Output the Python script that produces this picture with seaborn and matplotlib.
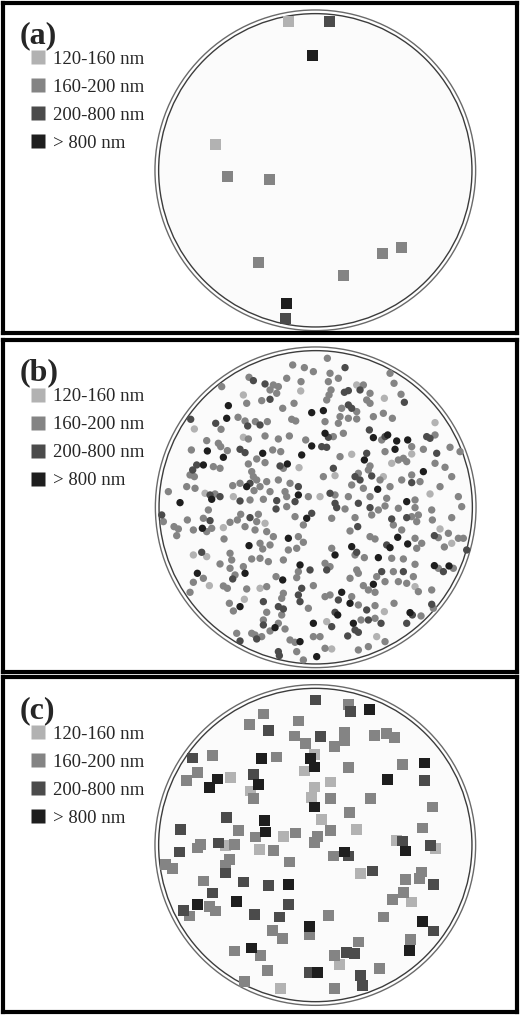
import pandas as pd
import matplotlib
matplotlib.use('Agg')
import matplotlib.pyplot as plt
from matplotlib.lines import Line2D
from matplotlib.patches import Circle
import seaborn as sns

# ------------------------------------------------------------
# size classes + grey levels of the defect map
# ------------------------------------------------------------
SIZE_CLASSES = ['120-160 nm', '160-200 nm', '200-800 nm', '> 800 nm']
GREYS = ['#b2b2b2', '#848484', '#4b4b4b', '#1e1e1e']

# digitised particle positions, map units (3 units = 1 px of the scan)
# --- (a) ---
A_LIGHT = [(866, 66), (647, 433)]
A_MID = [(684, 531), (809, 539), (1206, 742), (1149, 760), (775, 787), (1031, 828)]
A_DARK = [(990, 64), (857, 957)]
A_BLACK = [(937, 167), (861, 911)]

# --- (b) ---
B_LIGHT = [(902, 168), (730, 180), (583, 282), (730, 307), (897, 398), (615, 475), (700, 485),
           (1070, 150), (1153, 190), (1305, 263), (1235, 357), (1055, 358), (1175, 385),
           (1005, 422), (1150, 425), (1290, 477), (960, 485), (670, 578), (795, 565),
           (580, 660), (620, 665), (628, 752), (780, 760), (733, 793), (1320, 582),
           (1355, 625), (1245, 755), (1153, 830), (980, 860), (1130, 905), (995, 942)]
B_MID = [(878, 90), (913, 98), (940, 110), (860, 130), (903, 140), (747, 127), (820, 150),
         (835, 155), (810, 165), (830, 175), (665, 155), (740, 205), (785, 197), (882, 205),
         (848, 220), (714, 247), (735, 258), (766, 260), (802, 260), (663, 283), (875, 253),
         (887, 258), (745, 312), (795, 303), (835, 312), (868, 303), (917, 315), (620, 317),
         (655, 325), (662, 335), (682, 347), (818, 345), (842, 350), (574, 345), (770, 372),
         (795, 383), (745, 387), (570, 420), (583, 425), (640, 395), (660, 400), (850, 400),
         (755, 410), (760, 425), (770, 435), (780, 455), (800, 440), (810, 470), (762, 467),
         (698, 452), (720, 445), (835, 435), (855, 470), (870, 445), (560, 455), (585, 460),
         (645, 477), (505, 470), (750, 495), (790, 493), (860, 485), (925, 485),
         (982, 70), (990, 115), (1015, 130), (985, 140), (1090, 150), (993, 165), (987, 180),
         (980, 195), (1110, 175), (1100, 195), (1110, 205), (1203, 178), (1182, 145),
         (1170, 115), (1070, 230), (1025, 220), (975, 260), (1020, 245), (1045, 250),
         (1070, 252), (1015, 265), (1120, 245), (1150, 235), (1177, 250), (1000, 305),
         (1030, 295), (1145, 315), (1235, 335), (1305, 300), (1155, 350), (1210, 370),
         (1195, 375), (1220, 380), (1270, 343), (1350, 337), (1380, 350), (1020, 365),
         (1110, 393), (1105, 405), (1305, 385), (1335, 397), (970, 425), (1075, 415),
         (1140, 435), (1055, 450), (1090, 460), (1170, 455), (1205, 435), (1235, 420),
         (1260, 440), (1320, 455), (1355, 425), (1005, 480), (1045, 485), (1110, 485),
         (1160, 490), (1245, 495), (1375, 485),
         (625, 525), (610, 550), (490, 560), (522, 575), (535, 582), (562, 555), (580, 585),
         (620, 590), (635, 580), (690, 562), (712, 555), (722, 538), (775, 538), (770, 560),
         (735, 575), (765, 585), (800, 590), (820, 605), (860, 515), (885, 545), (910, 570),
         (530, 602), (672, 612), (780, 625), (788, 642), (810, 630), (895, 605), (890, 640),
         (910, 622), (865, 645), (690, 655), (695, 675), (660, 687), (755, 672), (780, 670),
         (805, 680), (850, 675), (895, 710), (690, 700), (730, 695), (705, 720), (610, 730),
         (580, 742), (670, 753), (682, 760), (740, 762), (800, 755), (828, 725), (890, 728),
         (940, 752), (570, 772), (688, 805), (700, 828), (850, 775), (845, 790), (845, 840),
         (800, 832), (925, 820), (790, 855), (835, 865), (855, 882), (940, 905), (710, 895),
         (755, 895), (765, 900), (785, 905), (810, 888), (870, 915), (885, 922), (890, 950),
         (910, 975),
         (1035, 522), (995, 550), (1135, 525), (1155, 513), (1195, 520), (1245, 518),
         (1295, 525), (1385, 515), (1065, 548), (1115, 540), (1180, 570), (1235, 545),
         (1255, 540), (1250, 560), (1297, 555), (1355, 548), (1050, 588), (1110, 605),
         (1125, 612), (1205, 585), (1245, 610), (1250, 640), (1265, 625), (1315, 608),
         (1345, 595), (1375, 610), (1390, 610), (1333, 636), (1065, 660), (995, 640),
         (1093, 668), (1175, 670), (1210, 672), (975, 685), (990, 695), (1315, 700),
         (1360, 700), (1245, 688), (1070, 705), (1155, 740), (1130, 725), (1050, 730),
         (1075, 715), (1180, 710), (1195, 740), (1220, 745), (1240, 725), (1255, 770),
         (1295, 765), (1090, 752), (1105, 765), (1125, 772), (990, 780), (975, 785),
         (1055, 785), (1075, 810), (1125, 812), (1182, 805), (1263, 843), (1300, 820),
         (1083, 855), (1125, 850), (960, 905), (1155, 920), (975, 940), (1075, 945), (1105, 935)]
B_DARK = [(760, 137), (795, 147), (810, 193), (743, 273), (780, 270), (647, 265), (572, 253),
          (720, 343), (735, 353), (590, 390), (578, 405), (840, 393), (750, 445), (895, 455),
          (630, 480), (660, 485), (720, 498), (830, 497), (885, 500),
          (1035, 98), (1080, 165), (1033, 172), (1045, 167), (1213, 202), (1045, 210),
          (1055, 220), (1108, 285), (985, 307), (1155, 305), (1280, 305), (1290, 310),
          (965, 335), (980, 337), (1310, 355), (1100, 355), (1000, 400), (1065, 425),
          (1080, 435), (1115, 423), (1235, 443), (990, 475), (1005, 505), (1075, 505),
          (630, 557), (485, 540), (750, 548), (828, 522), (935, 535), (605, 652), (930, 705),
          (698, 732), (790, 800), (895, 780), (905, 760), (900, 800), (835, 815), (850, 822),
          (790, 870), (770, 912), (720, 918), (835, 950), (838, 962),
          (1010, 518), (1110, 518), (1175, 552), (1220, 548), (1073, 575), (1160, 630),
          (1303, 602), (1400, 645), (1070, 652), (980, 705), (1330, 710), (1145, 710),
          (1210, 710), (1015, 795), (1100, 825), (1237, 840), (1295, 808), (1005, 832),
          (1065, 885), (1075, 892), (1105, 855), (1143, 865), (1220, 865), (995, 875),
          (1043, 903)]
B_BLACK = [(685, 212), (680, 250), (935, 233), (935, 333), (788, 355), (905, 360), (622, 348),
           (670, 367), (610, 390), (862, 387), (740, 455), (895, 480), (635, 493), (540, 503),
           (970, 227), (975, 295), (1120, 308), (1163, 300), (1190, 318), (1223, 315),
           (1185, 343), (1093, 375), (1270, 410), (1133, 463), (1220, 500),
           (607, 580), (920, 550), (747, 632), (865, 610), (900, 690), (735, 715), (592, 715),
           (848, 735), (720, 815), (825, 878), (940, 865), (900, 920),
           (1170, 638), (1193, 607), (1223, 627), (1055, 635), (1005, 660), (1135, 668),
           (1303, 692), (1347, 693), (1120, 748), (1025, 772), (1050, 805), (1230, 833),
           (1013, 840), (1060, 865), (950, 965)]

# --- (c) ---
C_LIGHT = [(945, 248), (915, 297), (693, 316), (752, 357), (992, 330), (945, 345), (935, 377),
           (850, 493), (965, 443), (1070, 473), (778, 532), (1190, 505), (1307, 530),
           (1082, 605), (1235, 690), (1018, 878), (842, 950), (678, 520)]
C_MID = [(1045, 97), (790, 126), (750, 157), (895, 147), (883, 192), (918, 214), (1005, 224),
         (1035, 180), (1035, 207), (1125, 190), (1160, 185), (1183, 197), (637, 250), (830, 255),
         (1045, 287), (1208, 277), (593, 302), (560, 325), (760, 380), (993, 380), (1113, 380),
         (1298, 405), (1050, 422), (717, 475), (768, 495), (887, 483), (993, 475), (953, 493),
         (943, 512), (603, 518), (593, 528), (703, 517), (820, 535), (870, 570), (1000, 552),
         (1268, 468), (497, 577), (518, 590), (688, 563), (678, 580), (1265, 600), (1260, 620),
         (1218, 623), (610, 627), (1210, 662), (1178, 683), (628, 703), (648, 717), (568, 732),
         (985, 731), (1152, 735), (928, 787), (817, 775), (848, 800), (1076, 810), (1232, 803),
         (703, 837), (783, 850), (1005, 850), (803, 895), (1140, 889), (733, 928), (1005, 950)]
C_DARK = [(948, 84), (1053, 118), (805, 175), (962, 193), (578, 258), (760, 307), (1273, 325),
          (680, 437), (543, 472), (655, 513), (540, 540), (1047, 552), (1208, 507), (1292, 520),
          (676, 603), (1118, 597), (1302, 637), (637, 663), (730, 630), (805, 640), (865, 697),
          (550, 715), (763, 728), (838, 735), (1300, 777), (1040, 841), (1065, 845), (930, 902),
          (1083, 910), (1087, 940)]
C_BLACK = [(1110, 112), (785, 260), (933, 260), (945, 285), (1273, 273), (653, 321), (628, 346),
           (775, 338), (945, 405), (1163, 322), (793, 446), (797, 480), (1035, 540), (1217, 537),
           (867, 638), (593, 697), (711, 688), (1267, 748), (928, 763), (1230, 835), (755, 828),
           (953, 902)]

# wafer centre of each map (map units) and wafer radius
MAP_CENTRES = [(946, 511), (947, 517), (946, 519)]
MAP_R = 481
WAFER_R = 150  # mm


def to_frame(groups, centre):
    cx, cy = centre
    rows = []
    for label, pts in zip(SIZE_CLASSES, groups):
        for x, y in pts:
            rows.append(((x - cx) / MAP_R * WAFER_R, (cy - y) / MAP_R * WAFER_R, label))
    return pd.DataFrame(rows, columns=['x', 'y', 'size'])


panels = [
    ('(a)', to_frame([A_LIGHT, A_MID, A_DARK, A_BLACK], MAP_CENTRES[0]), 's', 62),
    ('(b)', to_frame([B_LIGHT, B_MID, B_DARK, B_BLACK], MAP_CENTRES[1]), 'o', 28),
    ('(c)', to_frame([C_LIGHT, C_MID, C_DARK, C_BLACK], MAP_CENTRES[2]), 's', 62),
]

# ------------------------------------------------------------
# layout (figure pixels)
# ------------------------------------------------------------
W, H = 520, 1015
BOXES = [(3, 3, 517, 333), (3, 340, 517, 672), (3, 677, 517, 1012)]
WAFER_PX = [(315.3, 170.3), (315.7, 507.3), (315.3, 845.0)]
R_PX = MAP_R / 3

sns.set_theme(style='white')
plt.rcParams['font.family'] = ['Liberation Serif', 'DejaVu Serif']

fig = plt.figure(figsize=(W / 100, H / 100), dpi=100)
palette = dict(zip(SIZE_CLASSES, GREYS))

for (tag, df, marker, msize), (x0, y0, x1, y1), (wcx, wcy) in zip(panels, BOXES, WAFER_PX):
    ax = fig.add_axes([x0 / W, 1 - y1 / H, (x1 - x0) / W, (y1 - y0) / H])
    k = WAFER_R / R_PX
    ax.set_xlim((x0 - wcx) * k, (x1 - wcx) * k)
    ax.set_ylim((wcy - y1) * k, (wcy - y0) * k)

    # wafer outline: two thin rings
    ax.add_patch(Circle((0, 0), WAFER_R * 470 / 481, facecolor='#fbfbfb',
                        edgecolor='#3c3c3c', lw=1.0, zorder=1))
    ax.add_patch(Circle((0, 0), WAFER_R, facecolor='none',
                        edgecolor='#6a6a6a', lw=1.0, zorder=1))

    sns.scatterplot(data=df, x='x', y='y', hue='size', hue_order=SIZE_CLASSES,
                    palette=palette, marker=marker, s=msize, linewidth=0,
                    legend=False, ax=ax, zorder=3)

    handles = [Line2D([], [], marker='s', ls='', markersize=10.3, color=c, mec='none')
               for c in GREYS]
    ax.legend(handles, SIZE_CLASSES, loc='upper left', bbox_to_anchor=(0.053, 0.855),
              frameon=False, fontsize=13.5, handlelength=0.78, handletextpad=0.42,
              labelspacing=0.58, borderpad=0, borderaxespad=0)

    ax.text(0.032, 0.9, tag, transform=ax.transAxes, fontsize=23, fontweight='bold',
            ha='left', va='center')

    ax.set_xticks([])
    ax.set_yticks([])
    ax.set_xlabel('')
    ax.set_ylabel('')
    for sp in ax.spines.values():
        sp.set_visible(True)
        sp.set_color('black')
        sp.set_linewidth(3)

fig.savefig('out.png', dpi=100)
